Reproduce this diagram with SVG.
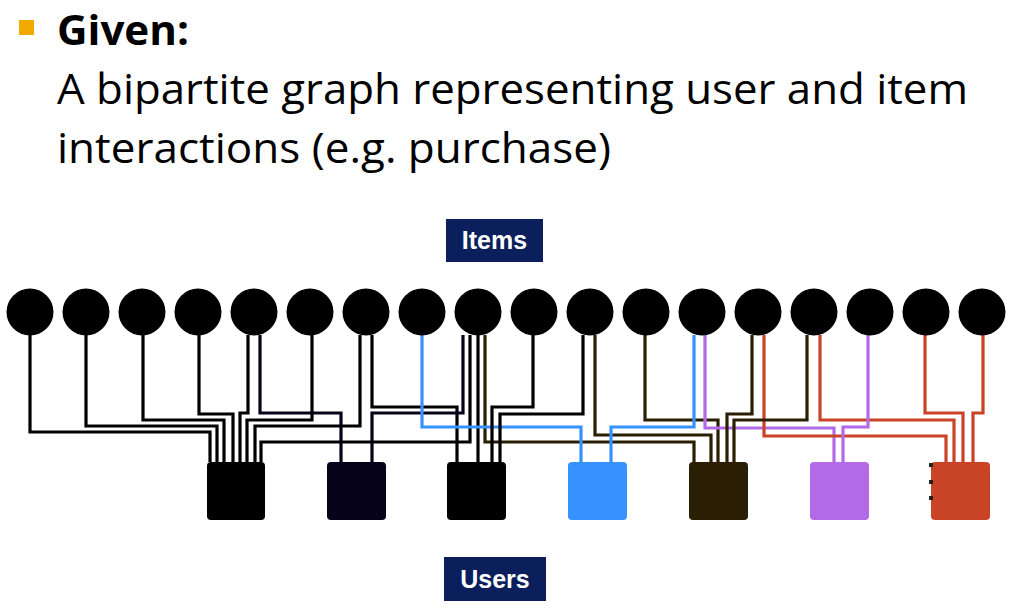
<svg xmlns="http://www.w3.org/2000/svg" width="1021" height="613" viewBox="0 0 1021 613">
<style>
.t{font-family:"Open Sans","Liberation Sans",sans-serif;font-size:42px;fill:#000}
.lbl{font-family:"Liberation Sans",Arial,sans-serif;font-weight:bold;font-size:25px;fill:#fff}
.item{fill:#000}
.e{fill:none;stroke-width:3.2;stroke-linejoin:miter}
.k{stroke:#000}.n{stroke:#05021a}.b{stroke:#2a1f04}.bl{stroke:#3592fe}.p{stroke:#b46ae6}.r{stroke:#c94426}
</style>
<rect width="1021" height="613" fill="#fff"/>
<rect x="19" y="20" width="15" height="15" fill="#f2a900"/>
<text class="t" x="57" y="45" font-weight="bold" textLength="132" lengthAdjust="spacingAndGlyphs">Given:</text>
<text class="t" x="57" y="104" textLength="911" lengthAdjust="spacingAndGlyphs">A bipartite graph representing user and item</text>
<text class="t" x="57" y="163" textLength="554" lengthAdjust="spacingAndGlyphs">interactions (e.g. purchase)</text>
<g id="label-items"><rect x="446" y="219" width="97" height="43" fill="#0a1f5c"/><text class="lbl" x="494.5" y="249" text-anchor="middle">Items</text></g>
<g id="label-users"><rect x="444" y="557" width="102" height="44" fill="#0a1f5c"/><text class="lbl" x="495" y="588" text-anchor="middle">Users</text></g>
<g id="connectors">
<path class="e k" d="M30 335V432H210V462"/>
<path class="e k" d="M86 335V426H217V462"/>
<path class="e k" d="M143 335V420H224V462"/>
<path class="e k" d="M199 335V414H233V462"/>
<path class="e k" d="M248 335V413H240V462"/>
<path class="e n" d="M260 335V413H341V462"/>
<path class="e k" d="M312 335V420H247V462"/>
<path class="e k" d="M360 335V426H255V462"/>
<path class="e k" d="M372 335V407H457V462"/>
<path class="e n" d="M463 335V413H372V462"/>
<path class="e k" d="M470 335V442H261V462"/>
<path class="e k" d="M478 335V462"/>
<path class="e b" d="M485 335V442H694V462"/>
<path class="e bl" d="M422 335V427H581V462"/>
<path class="e k" d="M533 335V407H492V462"/>
<path class="e k" d="M583 335V414H500V462"/>
<path class="e b" d="M595 335V435H711V462"/>
<path class="e b" d="M645 335V420H718V462"/>
<path class="e bl" d="M694 335V427H611V462"/>
<path class="e p" d="M705 335V428H834V462"/>
<path class="e b" d="M752 335V414H727V462"/>
<path class="e r" d="M764 335V436H946V462"/>
<path class="e b" d="M807 335V420H734V462"/>
<path class="e r" d="M820 335V420H954V462"/>
<path class="e p" d="M868 335V427H843V462"/>
<path class="e r" d="M925 335V413H963V462"/>
<path class="e r" d="M983 335V413H973V462"/>
</g>
<g id="items">
<circle class="item" cx="30" cy="312" r="23.5"/><circle class="item" cx="86" cy="312" r="23.5"/><circle class="item" cx="142" cy="312" r="23.5"/><circle class="item" cx="198" cy="312" r="23.5"/><circle class="item" cx="254" cy="312" r="23.5"/><circle class="item" cx="310" cy="312" r="23.5"/><circle class="item" cx="366" cy="312" r="23.5"/><circle class="item" cx="422" cy="312" r="23.5"/><circle class="item" cx="478" cy="312" r="23.5"/><circle class="item" cx="534" cy="312" r="23.5"/><circle class="item" cx="590" cy="312" r="23.5"/><circle class="item" cx="646" cy="312" r="23.5"/><circle class="item" cx="702" cy="312" r="23.5"/><circle class="item" cx="758" cy="312" r="23.5"/><circle class="item" cx="814" cy="312" r="23.5"/><circle class="item" cx="870" cy="312" r="23.5"/><circle class="item" cx="926" cy="312" r="23.5"/><circle class="item" cx="982" cy="312" r="23.5"/>
</g>
<g id="user1"><rect x="207" y="462" width="58" height="58" rx="4" fill="#000"/></g>
<g id="user2"><rect x="327" y="462" width="59" height="58" rx="4" fill="#05021a"/></g>
<g id="user3"><rect x="447" y="462" width="59" height="58" rx="4" fill="#000"/></g>
<g id="user4"><rect x="568" y="462" width="59" height="58" rx="4" fill="#3592fe"/></g>
<g id="user5"><rect x="689" y="462" width="59" height="58" rx="4" fill="#2a1f04"/></g>
<g id="user6"><rect x="810" y="462" width="59" height="58" rx="4" fill="#b46ae6"/></g>
<g id="user7"><rect x="931" y="462" width="59" height="58" rx="4" fill="#c94426"/>
<rect x="929" y="463" width="4" height="4" fill="#222"/><rect x="929" y="480" width="4" height="4" fill="#222"/><rect x="929" y="496" width="4" height="4" fill="#222"/></g>
</svg>
